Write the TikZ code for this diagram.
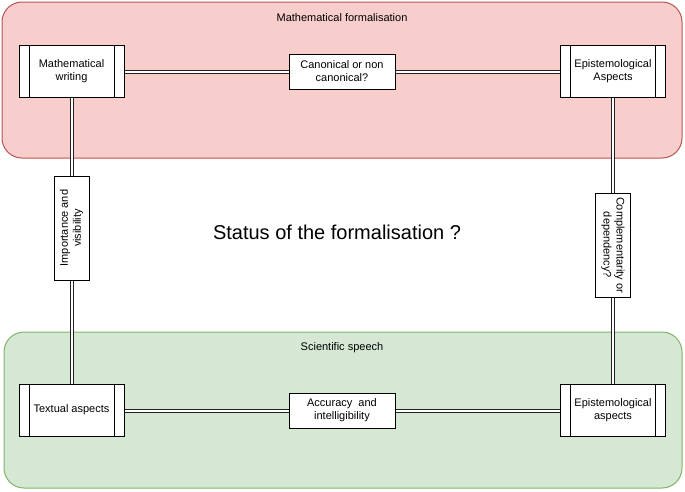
\documentclass[tikz,border=0pt]{standalone}
\usepackage{fontspec}
\setmainfont{Liberation Sans}
\definecolor{redfill}{HTML}{F8CECC}
\definecolor{reddraw}{HTML}{B85450}
\definecolor{greenfill}{HTML}{D5E8D4}
\definecolor{greendraw}{HTML}{82B366}
\definecolor{linegray}{HTML}{222222}
\tikzset{
  region/.style={rounded corners=20pt, line width=1pt},
  basebox/.style={draw=black, fill=white, line width=1pt, align=center, inner sep=2pt,
    font=\fontsize{11}{13}\selectfont},
  procbox/.style={basebox, minimum width=105pt, minimum height=52pt,
    path picture={
      \draw[line width=1pt] ([xshift=10pt]path picture bounding box.north west) -- ([xshift=10pt]path picture bounding box.south west);
      \draw[line width=1pt] ([xshift=-10pt]path picture bounding box.north east) -- ([xshift=-10pt]path picture bounding box.south east);
    }},
  labbox/.style={basebox, minimum width=106pt, minimum height=35pt},
  vlabbox/.style={basebox, minimum width=104pt, minimum height=35pt},
  link/.style={draw=linegray, line width=1pt, double=white, double distance=2pt},
  title/.style={font=\fontsize{11}{13}\selectfont}
}
\begin{document}
\begin{tikzpicture}[x=1pt,y=-1pt]
\useasboundingbox (0,0) rectangle (685,491);
\fill[white] (0,0) rectangle (685,491);
\draw[region, fill=redfill, draw=reddraw] (2,2) rectangle (682,158);
\draw[region, fill=greenfill, draw=greendraw] (4,332) rectangle (682,488);
\node[title] (t1) at (342,18) {Mathematical formalisation};
\node[title] (t2) at (342,348) {Scientific speech};
\node[font=\fontsize{20}{24}\selectfont] (status) at (337,232) {Status of the formalisation ?};

\node[procbox] (mw) at (71.5,71) {Mathematical\\writing};
\node[labbox] (can) at (342,71.5) {Canonical or non\\canonical?};
\node[procbox] (ea) at (613,71) {Epistemological\\Aspects};
\node[procbox] (ta) at (71.5,410) {Textual aspects};
\node[labbox] (acc) at (342,410.5) {Accuracy\ \ and\\intelligibility};
\node[procbox] (eb) at (613,410) {Epistemological\\aspects};
\node[vlabbox, rotate=90] (iv) at (71.5,228) {Importance and\\visibility};
\node[vlabbox, rotate=-90] (cd) at (613,245) {Complementarity or\\dependency?};

\draw[link] (mw.east |- can.west) -- (can.west);
\draw[link] (can.east) -- (ea.west |- can.east);
\draw[link] (ta.east |- acc.west) -- (acc.west);
\draw[link] (acc.east) -- (eb.west |- acc.east);
\draw[link] (mw.south) -- (iv);
\draw[link] (iv) -- (ta.north);
\draw[link] (ea.south) -- (cd);
\draw[link] (cd) -- (eb.north);
\end{tikzpicture}
\end{document}
